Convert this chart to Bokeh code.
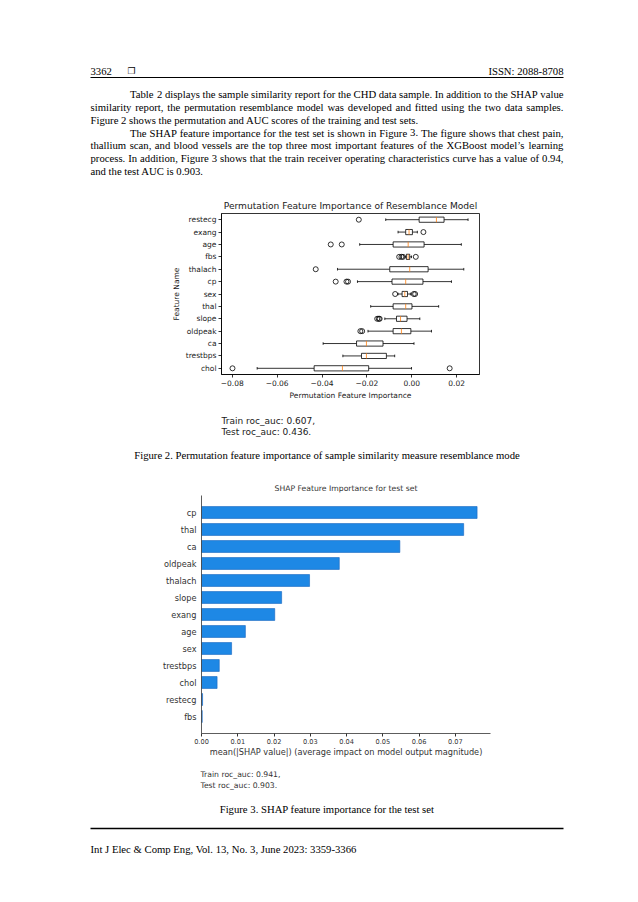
from bokeh.plotting import figure
from bokeh.models import Range1d, FixedTicker
from bokeh.layouts import column
from bokeh.core.properties import value
from bokeh.embed import file_html
from bokeh.resources import INLINE

# ---------------- data ----------------
perm_features = ["restecg", "exang", "age", "fbs", "thalach", "cp", "sex",
                 "thal", "slope", "oldpeak", "ca", "trestbps", "chol"]
perm_whisker_lo = [-0.0116, -0.0061, -0.0232, -0.0031, -0.0331, -0.0242, -0.0061,
                   -0.0183, -0.0120, -0.0195, -0.0395, -0.0307, -0.0689]
perm_q1 = [0.0033, -0.0027, -0.0083, -0.0024, -0.0098, -0.0088, -0.0043,
           -0.0083, -0.0068, -0.0083, -0.0246, -0.0224, -0.0435]
perm_median = [0.0110, -0.0012, -0.0016, -0.0016, -0.0009, -0.0027, -0.0031,
               -0.0027, -0.0050, -0.0046, -0.0202, -0.0202, -0.0309]
perm_q3 = [0.0144, 0.0003, 0.0055, -0.0009, 0.0073, 0.0050, -0.0019,
           0.0001, -0.0021, -0.0004, -0.0128, -0.0113, -0.0192]
perm_whisker_hi = [0.0251, 0.0025, 0.0221, -0.0001, 0.0232, 0.0177, -0.0006,
                   0.0120, 0.0036, 0.0088, 0.0010, -0.0076, -0.0001]
perm_outliers = [[-0.0236], [0.0052], [-0.0361, -0.0312],
                 [-0.0056, -0.0046, -0.0039, 0.0018], [-0.0428],
                 [-0.0339, -0.0291, -0.0284], [-0.0074, 0.0009, 0.0015], [],
                 [-0.0154, -0.0147, -0.0143], [-0.0229, -0.0221], [], [],
                 [-0.0799, 0.0169]]
perm_xticks = [-0.08, -0.06, -0.04, -0.02, 0.0, 0.02]
perm_xtick_labels = ["\u22120.08", "\u22120.06", "\u22120.04", "\u22120.02", "0.00", "0.02"]
perm_train_auc = "0.607"
perm_test_auc = "0.436"

shap_features = ["cp", "thal", "ca", "oldpeak", "thalach", "slope", "exang",
                 "age", "sex", "trestbps", "chol", "restecg", "fbs"]
shap_values = [0.0760, 0.0723, 0.0547, 0.0380, 0.0298, 0.0221, 0.0202,
               0.0121, 0.0083, 0.0049, 0.0043, 0.0003, 0.0002]
shap_xticks = [0.0, 0.01, 0.02, 0.03, 0.04, 0.05, 0.06, 0.07]
shap_xtick_labels = ["0.00", "0.01", "0.02", "0.03", "0.04", "0.05", "0.06", "0.07"]
shap_train_auc = "0.941"
shap_test_auc = "0.903"

paragraph = [
    ("Table 2 displays the sample similarity report for the CHD data sample. In addition to the SHAP value", True, True),
    ("similarity report, the permutation resemblance model was developed and fitted using the two data samples.", False, True),
    ("Figure 2 shows the permutation and AUC scores of the training and test sets.", False, False),
    ("The SHAP feature importance for the test set is shown in Figure 3. The figure shows that chest pain,", True, True),
    ("thallium scan, and blood vessels are the top three most important features of the XGBoost model\u2019s learning", False, True),
    ("process. In addition, Figure 3 shows that the train receiver operating characteristics curve has a value of 0.94,", False, True),
    ("and the test AUC is 0.903.", False, False),
]

# ---------------- styles ----------------
W = 622
SERIF = "Liberation Serif"
SANS = "DejaVu Sans"
BODY_FS = 10.7
LEFT, RIGHT, INDENT = 90.0, 563.0, 129.5
BASE = 0.35  # baseline offset below visual centre, in em

TW = {' ': 250, '!': 333, ',': 250, '-': 333, '.': 250, ':': 278, ';': 278,
      '(': 333, ')': 333, '\u2019': 333, "'": 333, '&': 778, '_': 500}
for c in "0123456789":
    TW[c] = 500
TW.update(dict(zip("ABCDEFGHIJKLMNOPQRSTUVWXYZ",
                   [722, 667, 667, 722, 611, 556, 722, 722, 333, 389, 722, 611, 889,
                    722, 722, 556, 722, 667, 556, 611, 722, 722, 944, 722, 722, 611])))
TW.update(dict(zip("abcdefghijklmnopqrstuvwxyz",
                   [444, 500, 444, 500, 444, 333, 500, 500, 278, 278, 500, 278, 778,
                    500, 500, 500, 500, 333, 389, 278, 500, 500, 722, 500, 500, 444])))


def tw(s, fs=BODY_FS):
    return sum(TW.get(ch, 500) for ch in s) / 1000.0 * fs


def text_fig(top, height):
    f = figure(width=W, height=height, x_range=Range1d(0, W),
               y_range=Range1d(top + height, top), output_backend="svg",
               toolbar_location=None, min_border=0, frame_align=False,
               x_axis_location=None, y_axis_location=None)
    f.grid.visible = False
    f.outline_line_color = None
    return f


def put(f, x, y, s, font=SERIF, size=BODY_FS, align="left", color="black"):
    f.text(x=[x], y=[y + BASE * size], text=[s], text_font=value(font),
           text_font_size=f"{size}px", text_align=align,
           text_baseline="alphabetic", text_color=color)


def put_justified(f, x0, x1, y, line):
    words = line.split(" ")
    total = sum(tw(w) for w in words)
    gap = (x1 - x0 - total) / (len(words) - 1)
    xs, x = [], x0
    for w in words:
        xs.append(x)
        x += tw(w) + gap
    f.text(x=xs, y=[y + BASE * BODY_FS] * len(words), text=words, text_font=value(SERIF),
           text_font_size=f"{BODY_FS}px", text_align="left",
           text_baseline="alphabetic", text_color="black")


# ---------------- header + paragraph ----------------
fa = text_fig(0, 195)
put(fa, LEFT, 67, "3362")
put(fa, 127, 67, "\u2750", font=SANS, size=9)
put(fa, RIGHT, 67, "ISSN: 2088-8708", align="right")
fa.segment(x0=[LEFT], y0=[77], x1=[RIGHT], y1=[77], line_color="black", line_width=1.2)
line_y = [90, 103, 116, 128.5, 141, 154, 167]
for (txt, indent, just), yy in zip(paragraph, line_y):
    x0 = INDENT if indent else LEFT
    if just:
        put_justified(fa, x0, RIGHT, yy, txt)
    else:
        put(fa, x0, yy, txt)

# ---------------- chart 1: permutation box plot ----------------
n1 = len(perm_features)
pos1 = [n1 - i for i in range(n1)]
p1 = figure(width=W, height=207, x_range=Range1d(-0.0848, 0.0302),
            y_range=Range1d(0.5, n1 + 0.5), output_backend="svg",
            toolbar_location=None, min_border_left=221, min_border_right=143,
            min_border_top=18, min_border_bottom=28, frame_align=False,
            title="Permutation Feature Importance of Resemblance Model")
p1.grid.visible = False
p1.outline_line_color = "black"
p1.outline_line_width = 0.8
p1.title.align = "center"
p1.title.text_font = SANS
p1.title.text_font_style = "normal"
p1.title.text_font_size = "9.1px"
p1.title.text_color = "#1a1a1a"
p1.title.standoff = 6
p1.xaxis.ticker = FixedTicker(ticks=perm_xticks)
p1.xaxis.major_label_overrides = dict(zip(perm_xticks, perm_xtick_labels))
p1.yaxis.ticker = FixedTicker(ticks=pos1)
p1.yaxis.major_label_overrides = dict(zip(pos1, perm_features))
p1.xaxis.axis_label = "Permutation Feature Importance"
p1.yaxis.axis_label = "Feature Name"
for ax in (p1.xaxis[0], p1.yaxis[0]):
    ax.axis_line_color = "black"
    ax.axis_line_width = 0.8
    ax.major_tick_in = 0
    ax.major_tick_out = 3
    ax.minor_tick_out = 0
    ax.minor_tick_in = 0
    ax.major_tick_line_color = "black"
    ax.major_tick_line_width = 0.8
    ax.major_label_text_font = SANS
    ax.major_label_text_font_size = "7.5px"
    ax.major_label_text_color = "#1a1a1a"
    ax.axis_label_text_font = SANS
    ax.axis_label_text_font_style = "normal"
    ax.axis_label_text_font_size = "7.5px"
    ax.axis_label_text_color = "#1a1a1a"
    ax.major_label_standoff = 2
    ax.axis_label_standoff = 2

BOX_H = 0.42
p1.segment(x0=perm_whisker_lo, y0=pos1, x1=perm_q1, y1=pos1, line_color="black", line_width=0.8)
p1.segment(x0=perm_q3, y0=pos1, x1=perm_whisker_hi, y1=pos1, line_color="black", line_width=0.8)
p1.segment(x0=perm_whisker_lo, y0=[v - BOX_H / 4 for v in pos1], x1=perm_whisker_lo,
           y1=[v + BOX_H / 4 for v in pos1], line_color="black", line_width=0.8)
p1.segment(x0=perm_whisker_hi, y0=[v - BOX_H / 4 for v in pos1], x1=perm_whisker_hi,
           y1=[v + BOX_H / 4 for v in pos1], line_color="black", line_width=0.8)
p1.hbar(y=pos1, left=perm_q1, right=perm_q3, height=BOX_H, fill_color="white",
        line_color="black", line_width=0.8)
p1.segment(x0=perm_median, y0=[v - BOX_H / 2 for v in pos1], x1=perm_median,
           y1=[v + BOX_H / 2 for v in pos1], line_color="#ff7f0e", line_width=0.8)
ox, oy = [], []
for pv, outs in zip(pos1, perm_outliers):
    for o in outs:
        ox.append(o)
        oy.append(pv)
p1.scatter(x=ox, y=oy, marker="circle", size=5, fill_color=None,
           line_color="black", line_width=0.8)

# ---------------- texts between charts ----------------
fc = text_fig(402, 68)
put(fc, 221, 417, f"Train roc_auc: {perm_train_auc},", font=SANS, size=9, color="#1a1a1a")
put(fc, 221, 428, f"Test roc_auc: {perm_test_auc}.", font=SANS, size=9, color="#1a1a1a")
put(fc, (LEFT + RIGHT) / 2, 451,
    "Figure 2. Permutation feature importance of sample similarity measure resemblance mode",
    align="center")

# ---------------- chart 2: SHAP bar chart ----------------
n2 = len(shap_features)
pos2 = [n2 - 1 - i for i in range(n2)]
p2 = figure(width=W, height=290, x_range=Range1d(0, 0.0797),
            y_range=Range1d(-1, n2), output_backend="svg",
            toolbar_location=None, min_border_left=201, min_border_right=132,
            min_border_top=25, min_border_bottom=27, frame_align=False,
            title="SHAP Feature Importance for test set")
p2.grid.visible = False
p2.outline_line_color = None
p2.title.align = "center"
p2.title.text_font = SANS
p2.title.text_font_style = "normal"
p2.title.text_font_size = "7.7px"
p2.title.text_color = "#333333"
p2.title.standoff = 6
p2.xaxis.ticker = FixedTicker(ticks=shap_xticks)
p2.xaxis.major_label_overrides = dict(zip(shap_xticks, shap_xtick_labels))
p2.yaxis.ticker = FixedTicker(ticks=pos2)
p2.yaxis.major_label_overrides = dict(zip(pos2, shap_features))
p2.xaxis.axis_label = "mean(|SHAP value|) (average impact on model output magnitude)"
for ax in (p2.xaxis[0], p2.yaxis[0]):
    ax.axis_line_color = "#333333"
    ax.axis_line_width = 0.8
    ax.minor_tick_out = 0
    ax.minor_tick_in = 0
    ax.major_tick_in = 0
    ax.major_label_text_font = SANS
    ax.major_label_text_color = "#333333"
    ax.axis_label_text_font = SANS
    ax.axis_label_text_font_style = "normal"
    ax.axis_label_text_color = "#333333"
p2.xaxis.major_tick_out = 3
p2.xaxis.major_tick_line_color = "#333333"
p2.xaxis.major_label_text_font_size = "6.6px"
p2.xaxis.axis_label_text_font_size = "8.2px"
p2.xaxis.major_label_standoff = 2
p2.xaxis.axis_label_standoff = 0
p2.yaxis.major_tick_out = 0
p2.yaxis.major_tick_line_color = None
p2.yaxis.major_label_text_font_size = "8.2px"
p2.yaxis.major_label_standoff = 5

p2.hbar(y=pos2, left=0, right=shap_values, height=0.7, fill_color="#1E88E5",
        line_color="#1565C0", line_width=0.6)

# ---------------- bottom texts ----------------
fe = text_fig(760, 126)
put(fe, 200, 771, f"Train roc_auc: {shap_train_auc},", font=SANS, size=7.7, color="#333333")
put(fe, 200, 782, f"Test roc_auc: {shap_test_auc}.", font=SANS, size=7.7, color="#333333")
put(fe, (LEFT + RIGHT) / 2, 805, "Figure 3. SHAP feature importance for the test set", align="center")
fe.segment(x0=[LEFT], y0=[828], x1=[RIGHT], y1=[828], line_color="black", line_width=1.5)
put(fe, LEFT, 845, "Int J Elec & Comp Eng, Vol. 13, No. 3, June 2023: 3359-3366")

layout = column(fa, p1, fc, p2, fe, spacing=0)
open("out.html", "w").write(file_html(layout, INLINE))
